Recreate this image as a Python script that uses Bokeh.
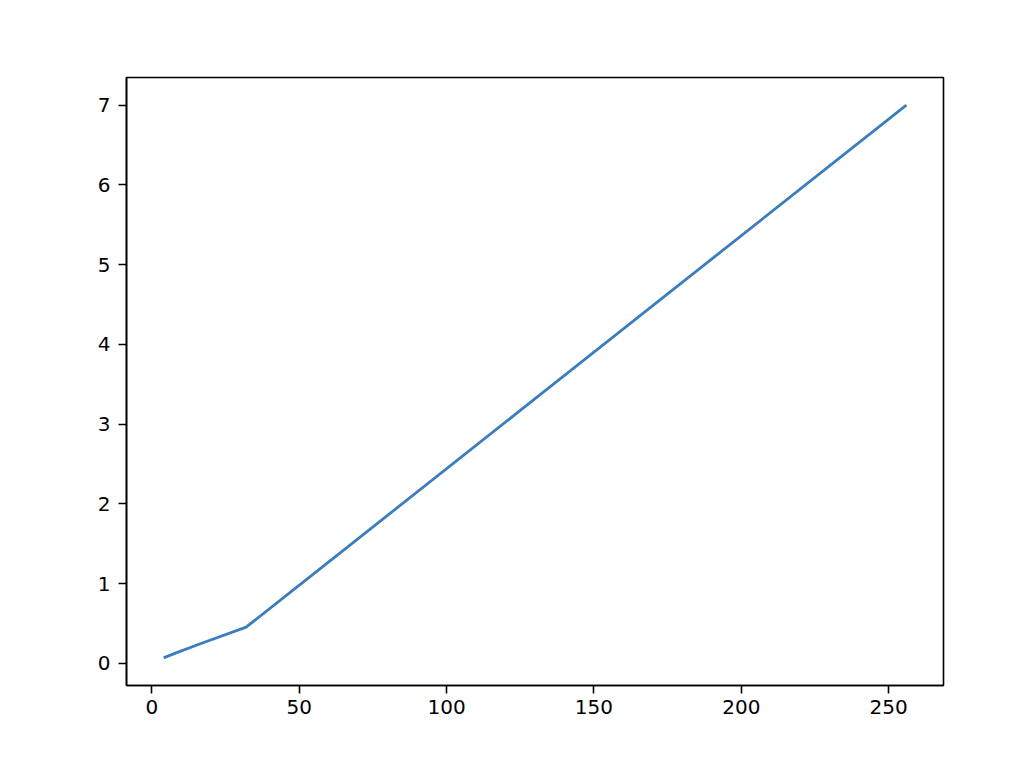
from bokeh.embed import file_html
from bokeh.models import FixedTicker, Range1d
from bokeh.plotting import figure
from bokeh.resources import INLINE

# data
sizes = [4, 8, 16, 32, 64, 128, 256]
times = [0.07, 0.13, 0.24, 0.455, 1.39, 3.26, 7.0]

x_ticks = [0, 50, 100, 150, 200, 250]
y_ticks = [0, 1, 2, 3, 4, 5, 6, 7]

# matplotlib-like 5% margins around the data
x_pad = (max(sizes) - min(sizes)) * 0.05
y_pad = (max(times) - min(times)) * 0.05

p = figure(
    width=1016,
    height=756,
    output_backend="svg",
    toolbar_location=None,
    x_range=Range1d(min(sizes) - x_pad, max(sizes) + x_pad),
    y_range=Range1d(min(times) - y_pad, max(times) + y_pad),
    min_border_left=126,
    min_border_right=73,
    min_border_top=77,
    min_border_bottom=71,
)
p.line(sizes, times, line_color="#3b7dbd", line_width=2.8)

p.xgrid.visible = False
p.ygrid.visible = False
p.outline_line_color = "black"
p.outline_line_width = 1.6

for axis, ticks in ((p.xaxis, x_ticks), (p.yaxis, y_ticks)):
    axis.ticker = FixedTicker(ticks=ticks)
    axis.axis_line_color = "black"
    axis.axis_line_width = 1.6
    axis.major_tick_line_color = "black"
    axis.major_tick_line_width = 1.6
    axis.major_tick_in = 0
    axis.major_tick_out = 8
    axis.minor_tick_line_color = None
    axis.major_label_text_font = "DejaVu Sans"
    axis.major_label_text_font_size = "20px"
    axis.major_label_text_color = "black"

p.xaxis.major_label_standoff = 6
p.yaxis.major_label_standoff = 8

p.background_fill_color = "white"
p.border_fill_color = "white"

open("out.html", "w").write(file_html(p, INLINE))
